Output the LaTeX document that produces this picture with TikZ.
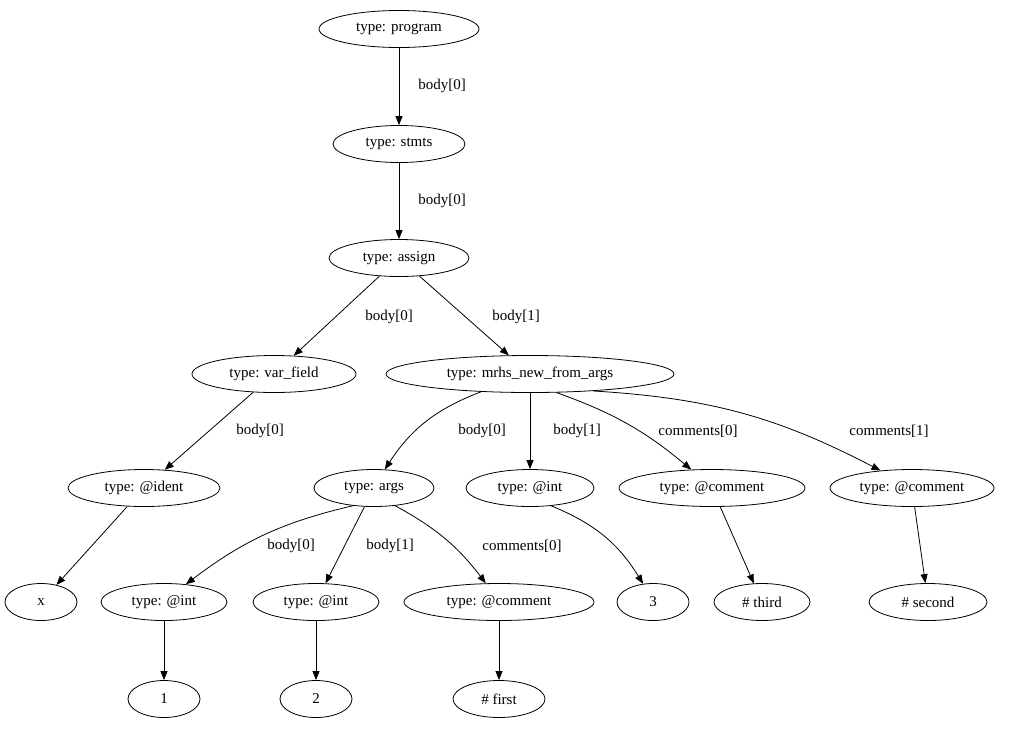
\documentclass[tikz,border=0pt]{standalone}
\usepackage{fontspec}
\setmainfont{Liberation Serif}
\usetikzlibrary{shapes.geometric,arrows.meta}
\begin{document}
\begin{tikzpicture}[x=1pt,y=-1pt,
  n/.style={ellipse,draw,line width=0.8pt,minimum height=37pt,inner sep=0pt,minimum width=#1,font=\fontsize{15}{15}\selectfont},
  e/.style={-{Triangle[length=9pt,width=7pt]},line width=0.8pt},
  lab/.style={font=\fontsize{15}{15}\selectfont,inner sep=0pt}]
\useasboundingbox (0,0) rectangle (1027,729);
\node[n=160pt] (prog) at (399,29) {type: program};
\node[n=132pt] (stmts) at (399,144) {type: stmts};
\node[n=140pt] (assign) at (399,258) {type: assign};
\node[n=164pt] (var) at (274,374) {type: var\_field};
\node[n=288pt] (mrhs) at (530,374) {type: mrhs\_new\_from\_args};
\node[n=152pt] (ident) at (144,488) {type: @ident};
\node[n=120pt] (args) at (374,488) {type: args};
\node[n=128pt] (int3) at (530,488) {type: @int};
\node[n=186pt] (c0) at (712,488) {type: @comment};
\node[n=164pt] (c1) at (912,488) {type: @comment};
\node[n=72pt] (x) at (41,602) {x};
\node[n=126pt] (int1) at (164,602) {type: @int};
\node[n=126pt] (int2) at (316,602) {type: @int};
\node[n=190pt] (cf) at (499,602) {type: @comment};
\node[n=72pt] (three) at (653,602) {3};
\node[n=96pt] (third) at (762,602) {\# third};
\node[n=118pt] (second) at (928,602) {\# second};
\node[n=72pt] (one) at (164,699) {1};
\node[n=72pt] (two) at (316,699) {2};
\node[n=92pt] (first) at (499,699) {\# first};
\draw[e] (prog) -- (stmts);
\draw[e] (stmts) -- (assign);
\draw[e] (assign) -- (var);
\draw[e] (assign) -- (mrhs);
\draw[e] (var) -- (ident);
\draw[e] (mrhs.200) to[bend right=18] (args);
\draw[e] (mrhs) -- (int3);
\draw[e] (mrhs.325) to[bend left=10] (c0);
\draw[e] (mrhs.345) to[bend left=12] (c1);
\draw[e] (ident) -- (x);
\draw[e] (args.220) to[bend right=12] (int1);
\draw[e] (args) -- (int2);
\draw[e] (args.320) to[bend left=12] (cf);
\draw[e] (int3.320) to[bend left=18] (three);
\draw[e] (c0) -- (third);
\draw[e] (c1) -- (second);
\draw[e] (int1) -- (one);
\draw[e] (int2) -- (two);
\draw[e] (cf) -- (first);
\node[lab] (l1) at (442,86) {body[0]};
\node[lab] (l2) at (442,201) {body[0]};
\node[lab] (l3) at (389,317) {body[0]};
\node[lab] (l4) at (516,317) {body[1]};
\node[lab] (l5) at (260,431) {body[0]};
\node[lab] (l6) at (482,431) {body[0]};
\node[lab] (l7) at (577,431) {body[1]};
\node[lab] (l8) at (698,431) {comments[0]};
\node[lab] (l9) at (889,431) {comments[1]};
\node[lab] (l10) at (291,546) {body[0]};
\node[lab] (l11) at (390,546) {body[1]};
\node[lab] (l12) at (522,546) {comments[0]};
\end{tikzpicture}
\end{document}
